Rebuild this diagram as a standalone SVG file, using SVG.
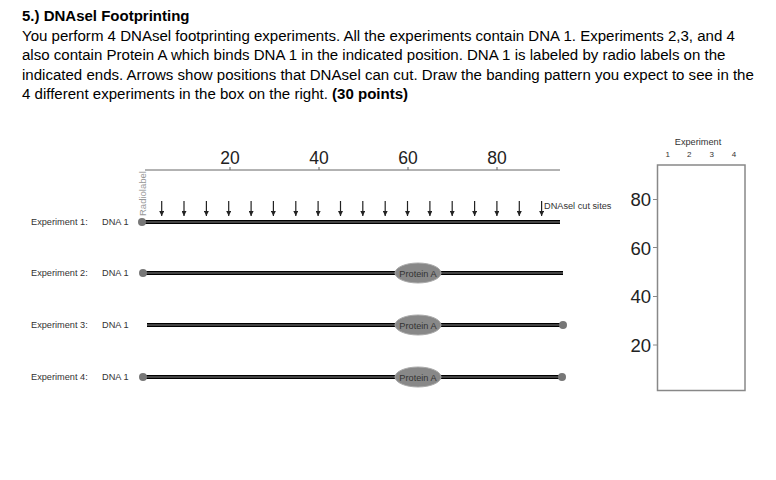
<svg xmlns="http://www.w3.org/2000/svg" width="776" height="480" viewBox="0 0 776 480">
<defs>
<style>
.t{font-family:"Liberation Sans",Arial,sans-serif;fill:#000}
.title{font-size:15px;font-weight:bold}
.body{font-size:15.05px}
.sm{font-family:"Liberation Sans",Arial,sans-serif;font-size:9.2px;fill:#333}
.num{font-family:"Liberation Sans",Arial,sans-serif;font-size:17.5px;fill:#222}
.gnum{font-family:"Liberation Sans",Arial,sans-serif;font-size:18.5px;fill:#222}
.arr{stroke:#222;stroke-width:1.2;fill:none}
.dnaO{stroke:#000;stroke-width:4;fill:none}
.dnaI{stroke:#888;stroke-width:1;fill:none}
.dot{fill:#777}
.prot{fill:#888;stroke:#aaa;stroke-width:1}
</style>
<marker id="ah" viewBox="0 0 6 6" refX="6" refY="3" markerWidth="5" markerHeight="5" orient="auto" markerUnits="userSpaceOnUse">
<path d="M0,0 L6,3 L0,6 Z" fill="#222"/>
</marker>
</defs>
<rect width="776" height="480" fill="#fff"/>
<g id="question">
<text class="t title" x="22" y="21">5.) DNAsel Footprinting</text>
<text class="t body" x="22" y="40.5">You perform 4 DNAsel footprinting experiments. All the experiments contain DNA 1. Experiments 2,3, and 4</text>
<text class="t body" x="22" y="60">also contain Protein A which binds DNA 1 in the indicated position. DNA 1 is labeled by radio labels on the</text>
<text class="t body" x="22" y="79.5">indicated ends. Arrows show positions that DNAsel can cut. Draw the banding pattern you expect to see in the</text>
<text class="t body" x="22" y="99">4 different experiments in the box on the right. <tspan font-weight="bold">(30 points)</tspan></text>
</g>
<g id="ruler">
<line x1="145" y1="170" x2="560" y2="170" stroke="#666" stroke-width="1"/>
<g stroke="#666" stroke-width="1">
<line x1="230" y1="170" x2="230" y2="167"/>
<line x1="319" y1="170" x2="319" y2="167"/>
<line x1="408" y1="170" x2="408" y2="167"/>
<line x1="497" y1="170" x2="497" y2="167"/>
</g>
<text class="num" x="230" y="164" text-anchor="middle">20</text>
<text class="num" x="319" y="164" text-anchor="middle">40</text>
<text class="num" x="408" y="164" text-anchor="middle">60</text>
<text class="num" x="497" y="164" text-anchor="middle">80</text>
</g>
<g id="cut-sites">
<g class="arr" marker-end="url(#ah)">
<line x1="161.7" y1="201" x2="161.7" y2="216"/>
<line x1="184" y1="201" x2="184" y2="216"/>
<line x1="206.4" y1="201" x2="206.4" y2="216"/>
<line x1="228.7" y1="201" x2="228.7" y2="216"/>
<line x1="251.1" y1="201" x2="251.1" y2="216"/>
<line x1="273.4" y1="201" x2="273.4" y2="216"/>
<line x1="295.8" y1="201" x2="295.8" y2="216"/>
<line x1="318.1" y1="201" x2="318.1" y2="216"/>
<line x1="340.5" y1="201" x2="340.5" y2="216"/>
<line x1="362.8" y1="201" x2="362.8" y2="216"/>
<line x1="385.2" y1="201" x2="385.2" y2="216"/>
<line x1="407.5" y1="201" x2="407.5" y2="216"/>
<line x1="429.9" y1="201" x2="429.9" y2="216"/>
<line x1="452.2" y1="201" x2="452.2" y2="216"/>
<line x1="474.6" y1="201" x2="474.6" y2="216"/>
<line x1="496.9" y1="201" x2="496.9" y2="216"/>
<line x1="519.3" y1="201" x2="519.3" y2="216"/>
<line x1="541.6" y1="201" x2="541.6" y2="216"/>
</g>
<text class="sm" x="544" y="209">DNAsel cut sites</text>
</g>
<g id="exp1">
<text class="sm" x="31" y="225">Experiment 1:</text>
<text class="sm" x="102" y="225">DNA 1</text>
<text class="sm" style="fill:#999;font-size:9.5px" transform="translate(145.5,216) rotate(-90)">Radiolabel</text>
<line class="dnaO" x1="144" y1="222" x2="560" y2="222"/>
<line class="dnaI" x1="144" y1="222" x2="560" y2="222"/>
<circle class="dot" cx="142" cy="222" r="4"/>
</g>
<g id="exp2">
<text class="sm" x="31" y="276">Experiment 2:</text>
<text class="sm" x="102" y="276">DNA 1</text>
<line class="dnaO" x1="144" y1="273" x2="563" y2="273"/>
<line class="dnaI" x1="144" y1="273" x2="563" y2="273"/>
<circle class="dot" cx="143" cy="273" r="4"/>
<ellipse class="prot" cx="418" cy="273" rx="23" ry="10"/>
<text class="sm" x="418" y="276.5" text-anchor="middle">Protein A</text>
</g>
<g id="exp3">
<text class="sm" x="31" y="328">Experiment 3:</text>
<text class="sm" x="102" y="328">DNA 1</text>
<line class="dnaO" x1="147" y1="325" x2="562" y2="325"/>
<line class="dnaI" x1="147" y1="325" x2="562" y2="325"/>
<circle class="dot" cx="563" cy="325" r="4"/>
<ellipse class="prot" cx="418" cy="325" rx="23" ry="10"/>
<text class="sm" x="418" y="328.5" text-anchor="middle">Protein A</text>
</g>
<g id="exp4">
<text class="sm" x="31" y="380">Experiment 4:</text>
<text class="sm" x="102" y="380">DNA 1</text>
<line class="dnaO" x1="144" y1="377" x2="562" y2="377"/>
<line class="dnaI" x1="144" y1="377" x2="562" y2="377"/>
<circle class="dot" cx="143" cy="377" r="4"/>
<circle class="dot" cx="562" cy="377" r="4"/>
<ellipse class="prot" cx="418" cy="377" rx="23" ry="10"/>
<text class="sm" x="418" y="380.5" text-anchor="middle">Protein A</text>
</g>
<g id="gel">
<rect x="657.5" y="165" width="87.5" height="225.5" fill="#fff" stroke="#888" stroke-width="1.5"/>
<text class="sm" x="698" y="145" text-anchor="middle">Experiment</text>
<text class="sm" x="667.7" y="157" text-anchor="middle" style="font-size:8px">1</text>
<text class="sm" x="689.3" y="157" text-anchor="middle" style="font-size:8px">2</text>
<text class="sm" x="711.7" y="157" text-anchor="middle" style="font-size:8px">3</text>
<text class="sm" x="734" y="157" text-anchor="middle" style="font-size:8px">4</text>
<g stroke="#888" stroke-width="1">
<line x1="653" y1="199.5" x2="657" y2="199.5"/>
<line x1="653" y1="247.5" x2="657" y2="247.5"/>
<line x1="653" y1="296.5" x2="657" y2="296.5"/>
<line x1="653" y1="345" x2="657" y2="345"/>
</g>
<text class="gnum" x="651" y="206" text-anchor="end">80</text>
<text class="gnum" x="651" y="254.5" text-anchor="end">60</text>
<text class="gnum" x="651" y="303" text-anchor="end">40</text>
<text class="gnum" x="651" y="352" text-anchor="end">20</text>
</g>
</svg>
